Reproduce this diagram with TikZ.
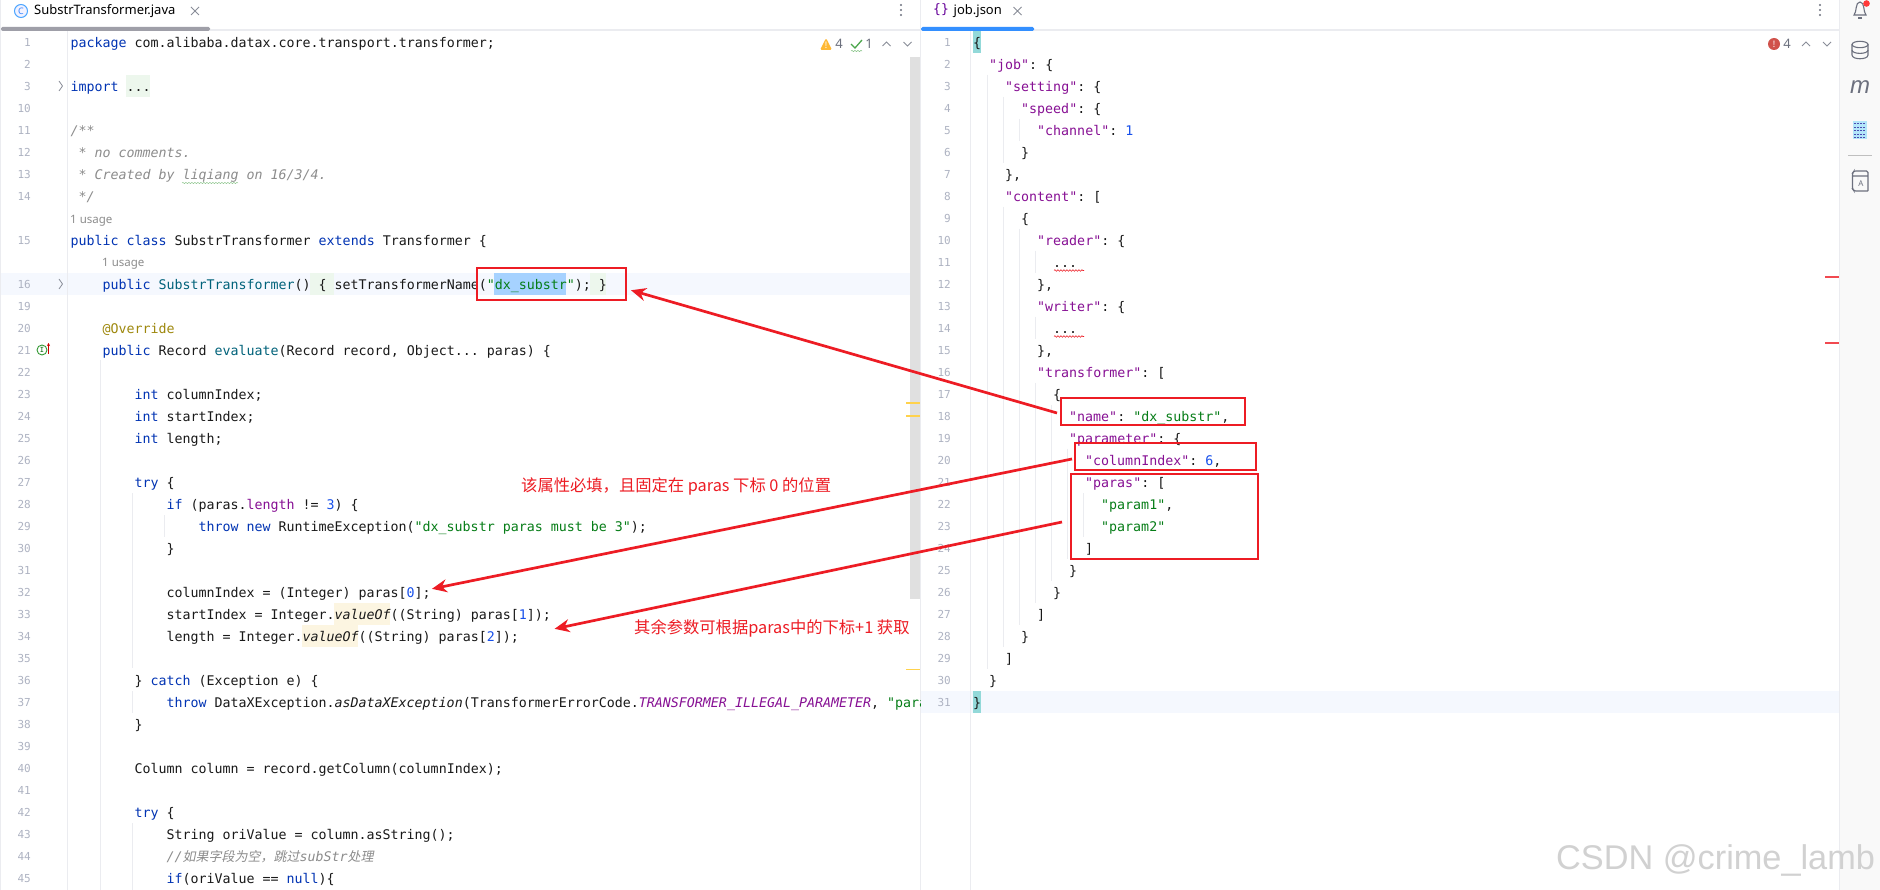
\documentclass[tikz,border=0pt]{standalone}
\usepackage{fontspec}
\usetikzlibrary{arrows.meta,decorations.pathmorphing}
\newfontfamily\codefont[Ligatures=ResetAll]{DejaVu Sans Mono}
\newfontfamily\uifont{Noto Sans}
\newfontfamily\annfont{Noto Sans CJK SC}
\newfontfamily\cjkit[FakeSlant=0.2]{Noto Sans CJK SC}
\newfontfamily\markfont{Liberation Sans}
\newcommand{\wcomma}{^^^^ff0c}
\definecolor{annred}{HTML}{ED1C24}
\definecolor{kwblue}{HTML}{0033B3}
\definecolor{strgreen}{HTML}{067D17}
\definecolor{numblue}{HTML}{1750EB}
\definecolor{fldpurple}{HTML}{871094}
\definecolor{fnteal}{HTML}{00627A}
\definecolor{cmtgray}{HTML}{8C8C8C}
\definecolor{anngold}{HTML}{9E880D}
\definecolor{lnogray}{HTML}{AEB3C2}
\definecolor{guidegray}{HTML}{EBECF0}
\definecolor{rowblue}{HTML}{F5F8FE}
\definecolor{icongray}{HTML}{6C707E}
\definecolor{foldgreen}{HTML}{EDF7ED}
\definecolor{selblue}{HTML}{A6D2FF}
\definecolor{bracketteal}{HTML}{93D9D9}
\definecolor{usagebg}{HTML}{FCF5E1}
\definecolor{errred}{HTML}{D0524B}
\newcommand{\kw}[1]{\textcolor{kwblue}{#1}}
\newcommand{\strv}[1]{\textcolor{strgreen}{#1}}
\newcommand{\numv}[1]{\textcolor{numblue}{#1}}
\newcommand{\fld}[1]{\textcolor{fldpurple}{#1}}
\newcommand{\fn}[1]{\textcolor{fnteal}{#1}}
\newcommand{\cmt}[1]{\textcolor{cmtgray}{\itshape #1}}
\tikzset{
  codeline/.style={anchor=base west,inner sep=0pt,yshift=-5.5pt,text=black!90,
    font=\codefont\fontsize{13.3}{16}\selectfont\frenchspacing},
  lineno/.style={anchor=base east,inner sep=0pt,yshift=-4.5pt,text=lnogray,
    font=\codefont\fontsize{11}{13}\selectfont},
  uitext/.style={anchor=base west,inner sep=0pt,font=\uifont\fontsize{13}{16}\selectfont},
  usage/.style={anchor=base west,inner sep=0pt,yshift=-4.5pt,text=cmtgray,
    font=\uifont\fontsize{11.5}{14}\selectfont},
  redbox/.style={draw=annred,line width=2pt,inner sep=0pt},
  redarrow/.style={draw=annred,line width=2.7pt,-{Stealth[length=15pt,width=13pt]}},
  note/.style={inner sep=0pt,text=annred,font=\annfont\fontsize{16.3}{20}\selectfont},
  guide/.style={draw=guidegray,line width=1pt},
  chevron/.style={draw=icongray!80,line width=.8pt},
  iconline/.style={draw=icongray,line width=1.1pt}
}
\begin{document}
\begin{tikzpicture}[x=1pt,y=-1pt]
  \useasboundingbox (0,0) rectangle (1880,890);
  \fill[white] (0,0) rectangle (1880,890);
  % panes and rows
  \fill[rowblue] (1,273) rectangle (920,295);
  \fill[rowblue] (921,691) rectangle (1839,713);
  \fill[black!2.5] (1839,0) rectangle (1880,890);
  \draw[guidegray] (1839,0) -- (1839,890);
  \draw[guidegray] (920.5,0) -- (920.5,890);
  \draw[guidegray] (.5,0) -- (.5,890);
  \draw[guidegray,line width=1.2pt] (0,30) -- (1839,30);
  \draw[guidegray] (67.5,31) -- (67.5,890);
  \draw[guidegray] (970.5,31) -- (970.5,890);
  % tab marks
  \fill[black!35!blue!8!gray!70,rounded corners=1.5pt] (1,27) rectangle (210,31);
  \fill[blue!55!cyan!80!white,rounded corners=1.5pt] (921,27) rectangle (1034,31);
  % text backgrounds
  \fill[foldgreen] (126,75) rectangle (150,97);
  \fill[foldgreen] (310,273) rectangle (334,295);
  \fill[foldgreen] (590,273) rectangle (606,295);
  \fill[selblue] (494,273) rectangle (566,295);
  \fill[usagebg] (334,603) rectangle (390,625);
  \fill[usagebg] (302,625) rectangle (358,647);
  \fill[bracketteal] (973,31) rectangle (981,53);
  \fill[bracketteal] (973,691) rectangle (981,713);
  % indent guides
  \draw[guide] (100.4,360) -- (100.4,890);
  \draw[guide] (132.6,493) -- (132.6,668);
  \draw[guide] (132.6,691) -- (132.6,713);
  \draw[guide] (132.6,823) -- (132.6,890);
  \draw[guide] (164.6,515) -- (164.6,537);
  \draw[guide] (987,75) -- (987,669);
  \draw[guide] (1003,97) -- (1003,163);
  \draw[guide] (1003,207) -- (1003,647);
  \draw[guide] (1019,119) -- (1019,141);
  \draw[guide] (1019,229) -- (1019,625);
  \draw[guide] (1035,251) -- (1035,273);
  \draw[guide] (1035,317) -- (1035,339);
  \draw[guide] (1035,383) -- (1035,603);
  \draw[guide] (1051,405) -- (1051,581);
  \draw[guide] (1067,449) -- (1067,559);
  \draw[guide] (1083,493) -- (1083,537);
  % line numbers
  \foreach \rw/\yy in {1/42,2/64,3/86,10/108,11/130,12/152,13/174,14/196,15/240,16/284,
    19/306,20/328,21/350,22/372,23/394,24/416,25/438,26/460,27/482,28/504,29/526,30/548,
    31/570,32/592,33/614,34/636,35/658,36/680,37/702,38/724,39/746,40/768,41/790,42/812,
    43/834,44/856,45/878}
    \node (ln\rw) [lineno] at (31,\yy) {\rw};
  \foreach \rw in {1,...,31}
    \node (rn\rw) [lineno] at (951,{42+22*(\rw-1)}) {\rw};
  % left pane
  \begin{scope}
    \clip (0,31) rectangle (920,890);
    \foreach \rw/\cl/\yy/\txt in {
      1/0/42/{\kw{package} com.alibaba.datax.core.transport.transformer;},
      3/0/86/{\kw{import} ...},
      11/0/130/{\cmt{/**}},
      12/1/152/{\cmt{* no comments.}},
      13/1/174/{\cmt{* Created by liqiang on 16/3/4.}},
      14/1/196/{\cmt{*/}},
      15/0/240/{\kw{public class} SubstrTransformer \kw{extends} Transformer \{},
      16/4/284/{\kw{public} \fn{SubstrTransformer}() \{ setTransformerName(\strv{"dx\_substr"}); \}},
      20/4/328/{\textcolor{anngold}{@Override}},
      21/4/350/{\kw{public} Record \fn{evaluate}(Record record, Object... paras) \{},
      23/8/394/{\kw{int} columnIndex;},
      24/8/416/{\kw{int} startIndex;},
      25/8/438/{\kw{int} length;},
      27/8/482/{\kw{try} \{},
      28/12/504/{\kw{if} (paras.\fld{length} != \numv{3}) \{},
      29/16/526/{\kw{throw new} RuntimeException(\strv{"dx\_substr paras must be 3"});},
      30/12/548/{\}},
      32/12/592/{columnIndex = (Integer) paras[\numv{0}];},
      33/12/614/{startIndex = Integer.{\itshape valueOf}((String) paras[\numv{1}]);},
      34/12/636/{length = Integer.{\itshape valueOf}((String) paras[\numv{2}]);},
      36/8/680/{\} \kw{catch} (Exception e) \{},
      37/12/702/{\kw{throw} DataXException.{\itshape asDataXException}(TransformerErrorCode.\fld{\itshape TRANSFORMER\_ILLEGAL\_PARAMETER}, \strv{"para}},
      38/8/724/{\}},
      40/8/768/{Column column = record.getColumn(columnIndex);},
      42/8/812/{\kw{try} \{},
      43/12/834/{String oriValue = column.asString();},
      44/12/856/{\cmt{//{\cjkit\fontsize{13}{16}\selectfont 如果字段为空\wcomma 跳过}subStr{\cjkit\fontsize{13}{16}\selectfont 处理}}},
      45/12/878/{\kw{if}(oriValue == \kw{null})\{}}
      \node (l\rw) [codeline] at ({70.3+8*\cl},\yy) {\txt};
  \end{scope}
  \node (use15) [usage] at (70,219) {1 usage};
  \node (use16) [usage] at (102,262) {1 usage};
  \draw[decorate,decoration={snake,amplitude=.6pt,segment length=3pt},draw=green!50!black!50]
    (182,183) -- (238,183);
  % right pane
  \foreach \rw/\cl/\txt in {
    1/0/{\{},
    2/2/{\fld{"job"}: \{},
    3/4/{\fld{"setting"}: \{},
    4/6/{\fld{"speed"}: \{},
    5/8/{\fld{"channel"}: \numv{1}},
    6/6/{\}},
    7/4/{\},},
    8/4/{\fld{"content"}: [},
    9/6/{\{},
    10/8/{\fld{"reader"}: \{},
    11/10/{...},
    12/8/{\},},
    13/8/{\fld{"writer"}: \{},
    14/10/{...},
    15/8/{\},},
    16/8/{\fld{"transformer"}: [},
    17/10/{\{},
    18/12/{\fld{"name"}: \strv{"dx\_substr"},},
    19/12/{\fld{"parameter"}: \{},
    20/14/{\fld{"columnIndex"}: \numv{6},},
    21/14/{\fld{"paras"}: [},
    22/16/{\strv{"param1"},},
    23/16/{\strv{"param2"}},
    24/14/{]},
    25/12/{\}},
    26/10/{\}},
    27/8/{]},
    28/6/{\}},
    29/4/{]},
    30/2/{\}},
    31/0/{\}}}
    \node (r\rw) [codeline] at ({973+8*\cl},{42+22*(\rw-1)}) {\txt};
  \foreach \yy in {270.5,336.5}
    \draw[decorate,decoration={snake,amplitude=.8pt,segment length=3pt},draw=annred,line width=.6pt]
      (1054,\yy) -- (1084,\yy);
  % tabs
  \node (tabC) [circle,draw=blue!50!cyan!70,fill=blue!5,line width=1pt,minimum size=13pt,inner sep=0pt,
    font=\uifont\fontsize{9}{10}\selectfont,text=blue!60!cyan!80] at (21,11) {C};
  \node (tabJava) [uitext] at (34,15) {SubstrTransformer.java};
  \draw[chevron] (191,7) -- (199,15) (199,7) -- (191,15);
  \node (tabBrace) [text=violet!80!blue,inner sep=0pt,font=\codefont\fontsize{13}{16}\selectfont] at (941,10) {\{\}};
  \node (tabJson) [uitext] at (953.5,15) {job.json};
  \draw[chevron] (1013.5,7) -- (1021.5,15) (1021.5,7) -- (1013.5,15);
  \foreach \xx in {901,1820}
    \foreach \yy in {5,10,15}
      \fill[icongray] (\xx,\yy) circle (1.2);
  % inspection widgets
  \fill[orange!70!yellow!80,rounded corners=1.5pt] (820,50) -- (826,38) -- (832,50) -- cycle;
  \node (warnMark) [inner sep=0pt,text=white,font=\uifont\bfseries\fontsize{9}{10}\selectfont] at (826,45) {!};
  \node (warnNum) [inner sep=0pt,text=icongray,font=\uifont\fontsize{13}{16}\selectfont] at (839,44) {4};
  \draw[green!50!black!70,line width=1.3pt] (851,44) -- (855,48) -- (862,40);
  \draw[decorate,decoration={snake,amplitude=.5pt,segment length=3pt},draw=green!50!black!70] (851,51) -- (862,51);
  \node (okNum) [inner sep=0pt,text=icongray,font=\uifont\fontsize{13}{16}\selectfont] at (869,44) {1};
  \fill[errred] (1774,44) circle (6);
  \node (errMark) [inner sep=0pt,text=white,font=\uifont\bfseries\fontsize{9}{10}\selectfont] at (1774,44) {!};
  \node (errNum) [inner sep=0pt,text=icongray,font=\uifont\fontsize{13}{16}\selectfont] at (1787,44) {4};
  \foreach \xx in {886.5,1806}
    \draw[chevron] (\xx-4,46) -- (\xx,42) -- (\xx+4,46);
  \foreach \xx in {907.5,1827}
    \draw[chevron] (\xx-4,42) -- (\xx,46) -- (\xx+4,42);
  % gutter marks
  \foreach \yy in {86,284}
    \draw[chevron] (59,\yy-5) -- (62.5,\yy) -- (59,\yy+5);
  \node (implMark) [circle,draw=green!50!black!80,line width=.9pt,minimum size=10pt,inner sep=0pt,
    text=green!40!black,font=\codefont\fontsize{7}{8}\selectfont] at (42,350) {I};
  \draw[red!80!black,line width=.8pt,-{Stealth[length=3pt,width=3pt]}] (48.5,354) -- (48.5,343);
  % scrollbar and stripes
  \fill[black!12] (910,57) rectangle (920,599);
  \fill[orange!50!yellow!70] (906,402.5) rectangle (920,404);
  \fill[orange!50!yellow!70] (906,415.5) rectangle (920,417);
  \fill[orange!50!yellow!70] (906,668.5) rectangle (920,670);
  \fill[annred!80] (1825,276.5) rectangle (1839,278);
  \fill[annred!80] (1825,342.5) rectangle (1839,344);
  % side bar
  \draw[iconline] (1854,15) .. controls (1857,12) and (1855,2) .. (1860,2) .. controls (1865,2) and (1863,12) .. (1866,15) -- cycle;
  \draw[iconline] (1858,18) -- (1862,18);
  \fill[red!70!pink] (1866.5,3.5) circle (3.3);
  \draw[iconline] (1860,44.5) ellipse [x radius=8,y radius=3.2];
  \draw[iconline] (1852,44.5) -- (1852,55) .. controls (1852,60) and (1868,60) .. (1868,55) -- (1868,44.5);
  \draw[iconline] (1852,50) .. controls (1852,54.5) and (1868,54.5) .. (1868,50);
  \node (sideM) [inner sep=0pt,text=icongray,font=\markfont\itshape\fontsize{24}{26}\selectfont] at (1860,87) {m};
  \fill[cyan!30] (1853,121) rectangle (1867,139);
  \foreach \yy in {123.5,127,130.5,134,137}
    \draw[blue!40!gray,line width=.9pt,dash pattern=on 2pt off 1pt] (1854,\yy) -- (1866,\yy);
  \draw[black!25] (1848,155) -- (1872,155);
  \draw[iconline,rounded corners=1.5pt] (1868,191) -- (1854,191) -- (1852.5,189) -- (1852.5,173) -- (1854,171) -- (1868,171) -- (1868,191) (1853,176) -- (1868,176);
  \node (sideA) [inner sep=0pt,text=icongray,font=\uifont\bfseries\fontsize{8}{9}\selectfont] at (1861,184) {A};
  % red marks
  \node (substrBox) [redbox,minimum width=148.5pt,minimum height=32.5pt] at (551.25,284.25) {};
  \node (nameBox) [redbox,minimum width=184pt,minimum height=27pt] at (1153,411.5) {};
  \node (cidxBox) [redbox,minimum width=181pt,minimum height=27pt] at (1165.5,456.5) {};
  \node (parasBox) [redbox,minimum width=187.5pt,minimum height=85pt] at (1164.25,516.5) {};
  \draw[redarrow] ([xshift=-3pt,yshift=-1.5pt]nameBox.west) -- ([xshift=4.5pt,yshift=-6pt]substrBox.east);
  \draw[redarrow] ([xshift=-2pt,yshift=-2.5pt]cidxBox.west) -- ([xshift=1pt,yshift=5pt]l32.east);
  \draw[redarrow] ([xshift=-7.5pt,yshift=-5.5pt]parasBox.west) -- ([xshift=3.5pt,yshift=-13pt]l33.east);
  \node (noteFirst) [note,anchor=west] at (521,486) {该属性必填\wcomma 且固定在 paras 下标 0 的位置};
  \node (noteRest) [note,anchor=west] at (634,628) {其余参数可根据paras中的下标+1 获取};
  \node (stamp) [anchor=base west,inner sep=0pt,text=black!18,font=\markfont\fontsize{34.3}{38}\selectfont] at (1556,869) {CSDN @crime\_lamb};
\end{tikzpicture}
\end{document}
